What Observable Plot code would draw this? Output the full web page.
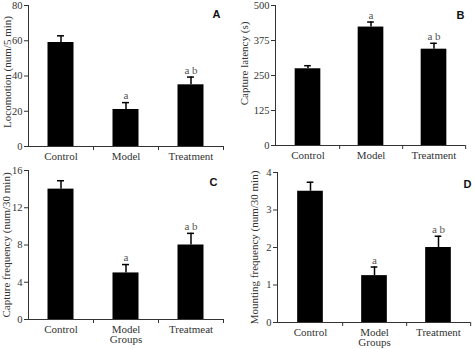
<!DOCTYPE html>
<html><head><meta charset="utf-8">
<script src="https://cdn.jsdelivr.net/npm/d3@7"></script>
<script src="https://cdn.jsdelivr.net/npm/@observablehq/plot@0.6"></script>
<style>
body{margin:0;background:#fff;}
#wrap{position:relative;width:474px;height:349px;overflow:hidden;background:#fff;}
#wrap > .p{position:absolute;}
</style></head><body><div id="wrap"></div>
<script>
const groupsTop = ["Control", "Model", "Treatment"];
const groupsC = ["Control", "Model", "Treatmeat"];
const groupsD = ["Control", "Model", "Treatment"];
const xTitleBottom = "Groups";
const sigLabels = ["", "a", "a b"];

const locomotion = [59, 21, 35];
const locomotionErr = [3.8, 3.9, 4.4];
const latency = [274, 423, 344];
const latencyErr = [11, 18, 21];
const captureFreq = [14, 5, 8];
const captureFreqErr = [0.9, 0.9, 1.25];
const mounting = [3.5, 1.25, 2.0];
const mountingErr = [0.24, 0.23, 0.3];

const ticksA = [0, 20, 40, 60, 80];
const ticksB = [0, 125, 250, 375, 500];
const ticksC = [0, 4, 8, 12, 16];
const ticksD = [0, 1, 2, 3, 4];

const labelA = "Locomotion (num/5 min)";
const labelB = "Capture latency (s)";
const labelC = "Capture frequency (num/30 min)";
const labelD = "Mounting frequency (num/30 min)";

function panel(o) {
  const {cats, vals, errs, ticks, label, letter, xTitle, left, top, width, height, mt, mr, mb, ml, labelDx, labelDy, letterDx, letterDy} = o;
  const data = cats.map((c, i) => ({c, v: vals[i], e: vals[i] + errs[i], s: sigLabels[i]}));
  const band = (width - ml - mr) / 3;
  const barInset = (band - 26) / 2;
  const capInset = band / 2 - 3.5;
  const fmt = xTitle ? (d) => (d === "Model" ? "Model\n" + xTitle : d) : (d) => d;
  const chart = Plot.plot({
    width, height, marginTop: mt, marginRight: mr, marginBottom: mb, marginLeft: ml,
    style: {fontFamily: "'Liberation Serif', serif", fontSize: "11px", color: "#333", background: "white", overflow: "visible"},
    x: {domain: cats, padding: 0, label: null},
    y: {domain: [ticks[0], ticks[ticks.length - 1]], label: null},
    marks: [
      Plot.barY(data, {x: "c", y: "v", fill: "#000", insetLeft: barInset, insetRight: barInset}),
      Plot.ruleX(data, {x: "c", y1: "v", y2: "e", stroke: "#000", strokeWidth: 1.5}),
      Plot.tickY(data, {x: "c", y: "e", stroke: "#000", strokeWidth: 1.5, insetLeft: capInset, insetRight: capInset}),
      Plot.text(data, {x: "c", y: "e", text: "s", dy: -7, fontSize: 11, fill: "#555"}),
      Plot.axisY({ticks, tickSize: 4, tickPadding: 2, fontSize: 10.5, label: null, tickFormat: (d) => String(d)}),
      Plot.axisX({tickSize: 0, tickPadding: 6, tickFormat: fmt, fontSize: 11, label: null, lineHeight: 0.95}),
      Plot.axisX({tickSize: 4, tickFormat: () => "", dx: band / 2, label: null}),
      Plot.frame({anchor: "left", stroke: "#333"}),
      Plot.ruleY([0], {stroke: "#333"}),
      Plot.text([label], {frameAnchor: "left", textAnchor: "middle", lineAnchor: "middle", rotate: -90, dx: labelDx, dy: labelDy, fontSize: 11, fill: "#333"}),
      Plot.text([letter], {frameAnchor: "top-right", textAnchor: "middle", lineAnchor: "middle", dx: letterDx, dy: letterDy, fontFamily: "'Liberation Sans', Arial, sans-serif", fontWeight: "bold", fontSize: 11, fill: "#111"})
    ]
  });
  const div = document.createElement("div");
  div.className = "p";
  div.style.left = left + "px";
  div.style.top = top + "px";
  div.appendChild(chart);
  document.getElementById("wrap").appendChild(div);
}

panel({cats: groupsTop, vals: locomotion, errs: locomotionErr, ticks: ticksA, label: labelA, letter: "A",
  left: 0, top: 0, width: 237, height: 165, mt: 5, mr: 14, mb: 19, ml: 28, labelDx: -21, labelDy: -4, letterDx: -7, letterDy: 9});
panel({cats: groupsTop, vals: latency, errs: latencyErr, ticks: ticksB, label: labelB, letter: "B",
  left: 237, top: 0, width: 237, height: 165, mt: 5, mr: 9, mb: 20, ml: 38, labelDx: -31, labelDy: -12, letterDx: -5, letterDy: 10});
panel({cats: groupsC, vals: captureFreq, errs: captureFreqErr, ticks: ticksC, label: labelC, letter: "C", xTitle: xTitleBottom,
  left: 0, top: 165, width: 237, height: 184, mt: 5, mr: 14, mb: 30, ml: 28, labelDx: -22, labelDy: 0, letterDx: -10, letterDy: 12});
panel({cats: groupsD, vals: mounting, errs: mountingErr, ticks: ticksD, label: labelD, letter: "D", xTitle: xTitleBottom,
  left: 237, top: 165, width: 237, height: 184, mt: 7, mr: 4, mb: 27, ml: 40, labelDx: -23, labelDy: 0, letterDx: -3, letterDy: 12});
</script>
</body></html>
